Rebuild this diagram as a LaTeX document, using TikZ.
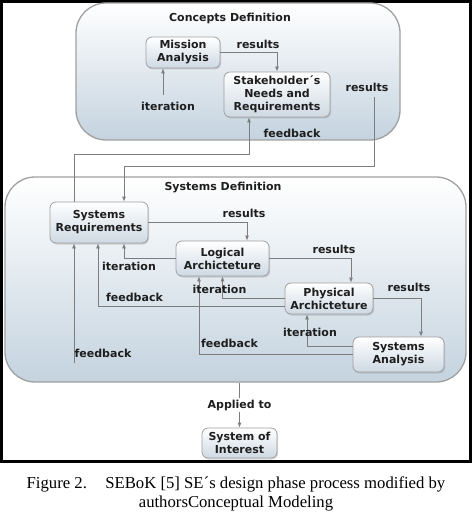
\documentclass[tikz,border=0pt]{standalone}
\usepackage{fontspec}
\usepackage{tikz}
\usetikzlibrary{arrows.meta,shadows,positioning}
\newfontfamily\boxfont{DejaVu Sans}
\newfontfamily\capfont{Liberation Serif}
\definecolor{panel}{RGB}{196,211,223}
\definecolor{boxlow}{RGB}{206,217,227}
\definecolor{edge}{RGB}{160,160,160}
\definecolor{wire}{RGB}{125,125,125}
\definecolor{ink}{RGB}{30,30,30}

\tikzset{
  phase/.style={draw=edge, line width=1.3pt, rounded corners=30pt, top color=white, bottom color=panel},
  proc/.style={draw=edge, line width=0.8pt, rounded corners=6pt, top color=white, bottom color=boxlow,
    drop shadow={shadow xshift=1pt, shadow yshift=-1.5pt, opacity=0.3},
    align=center, inner sep=1pt, text=ink, font=\boxfont\bfseries\fontsize{11}{13}\selectfont},
  lbl/.style={text=ink, inner sep=1pt, font=\boxfont\bfseries\fontsize{11}{13}\selectfont},
  flow/.style={draw=wire, line width=0.8pt, -{Latex[length=5pt,width=4pt]}}
}

\begin{document}
\begin{tikzpicture}[x=1pt,y=-1pt]
\useasboundingbox (0,0) rectangle (474,513);
\draw [line width=3pt] (1.5,1.5) rectangle (470.5,461);

% the two phases
\node [phase, minimum width=324pt, minimum height=137pt] (cd) at (238,71.5) {};
\node [phase, minimum width=461pt, minimum height=205pt] (sd) at (235.5,279.5) {};
\node [lbl] (cdtitle) at (230,18) {Concepts Definition};
\node [lbl] (sdtitle) at (223,188) {Systems Definition};

% process boxes
\node [proc, minimum width=74pt, minimum height=31pt] (ma) at (183,52.5) {Mission\\Analysis};
\node [proc, minimum width=106pt, minimum height=45pt] (sn) at (277,94.5) {Stakeholder´s\\Needs and\\Requirements};
\node [proc, minimum width=98pt, minimum height=41pt] (sr) at (99,222.5) {Systems\\Requirements};
\node [proc, minimum width=93pt, minimum height=35pt] (la) at (222.5,258.5) {Logical\\Archicteture};
\node [proc, minimum width=88pt, minimum height=31pt] (pa) at (329,298.5) {Physical\\Archicteture};
\node [proc, minimum width=91pt, minimum height=35pt] (sa) at (398.5,354.5) {Systems\\Analysis};
\node [proc, minimum width=75pt, minimum height=30pt] (soi) at (239.5,443) {System of\\Interest};

% free ends and bends
\coordinate (it0) at (163,95);
\coordinate (res0) at (374,97);
\coordinate (res1) at (374,166);
\coordinate (fb1) at (249,154);
\coordinate (fb0) at (74,363);

% connectors
\draw [flow] (ma.east) -| (sn.north);
\draw [flow] (it0) -- (it0 |- ma.south);
\draw [flow] (res0) -- (res1) -| ([xshift=25pt]sr.north);
\draw [flow] ([xshift=-25pt]sr.north) |- (fb1) -- (fb1 |- sn.south);
\draw [flow] (sr.east) -| ([xshift=24.5pt]la.north);
\draw [flow] (la.east) -| ([xshift=22pt]pa.north);
\draw [flow] (pa.east) -| ([xshift=22.5pt]sa.north);
\draw [flow] (la.west) -| ([xshift=25pt]sr.south);
\draw [flow] (pa.west) -| (la.south);
\draw [flow] ([yshift=-7.5pt]pa.west) -| ([xshift=-1pt]sr.south);
\draw [flow] ([yshift=8.5pt]sa.west) -| ([xshift=-22pt]pa.south);
\draw [flow] (sa.west) -| ([xshift=-23.5pt]la.south);
\draw [flow] (fb0) -- (fb0 |- sr.south);
\draw [flow] (sd.south -| soi.north) -- node [lbl, fill=white, inner sep=2pt] (appl) {Applied to} (soi.north);

% labels
\node [lbl] (l1) at (258,44) {results};
\node [lbl] (l2) at (168,106) {iteration};
\node [lbl] (l3) at (367,87) {results};
\node [lbl] (l4) at (292,133) {feedback};
\node [lbl] (l5) at (244,213) {results};
\node [lbl] (l6) at (334,249) {results};
\node [lbl] (l7) at (409,287) {results};
\node [lbl] (l8) at (129,266) {iteration};
\node [lbl] (l9) at (134.5,297) {feedback};
\node [lbl] (l10) at (219.5,289) {iteration};
\node [lbl] (l11) at (310,332) {iteration};
\node [lbl] (l12) at (229.5,343) {feedback};
\node [lbl] (l13) at (103,353) {feedback};

% caption
\node [font=\capfont\fontsize{16.7}{18.5}\selectfont, align=center] (cap) at (236,494)
  {Figure 2.\hspace{1.1em}SEBoK [5] SE´s design phase process modified by\\authorsConceptual Modeling};
\end{tikzpicture}
\end{document}
